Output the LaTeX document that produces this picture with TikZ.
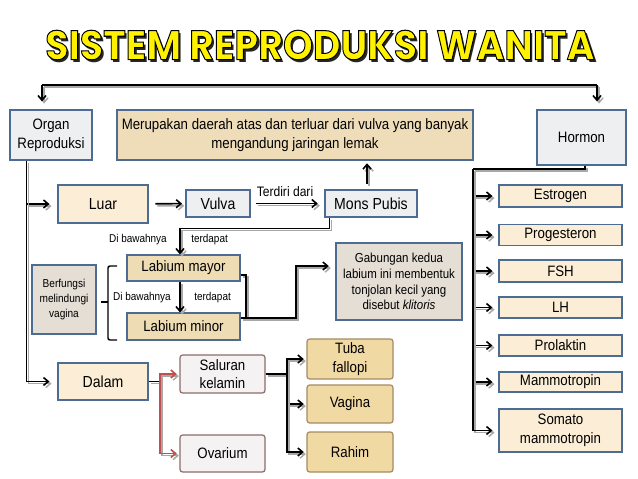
\documentclass[tikz,border=0pt]{standalone}
\usepackage{fontspec}
\usepackage{graphicx}
\setmainfont{Liberation Sans}[FakeStretch=0.88]
\newfontfamily\titlefont{Poppins}
\usetikzlibrary{arrows.meta,calc}
\definecolor{bblue}{HTML}{4D6C94}
\definecolor{boxgray}{HTML}{EEEFF1}
\definecolor{tanbg}{HTML}{EFDDBA}
\definecolor{peach}{HTML}{FCEED6}
\definecolor{labtan}{HTML}{EEDDB4}
\definecolor{beige}{HTML}{E4DED5}
\definecolor{rosefill}{HTML}{F4F2F2}
\definecolor{roseborder}{HTML}{8E6B6B}
\definecolor{goldfill}{HTML}{F1D9A4}
\definecolor{goldborder}{HTML}{A38C62}
\definecolor{arrowred}{HTML}{C0504D}
\definecolor{shadowgray}{HTML}{A8A8A8}
\definecolor{titleyellow}{HTML}{FFF200}
\newcommand\titletext[1]{\resizebox{412pt}{22pt}{#1\titlefont\bfseries SISTEM REPRODUKSI WANITA}}
\begin{document}
\begin{tikzpicture}[x=0.75pt,y=-0.75pt,
  sz/.style 2 args={minimum width=#1*0.75pt, minimum height=#2*0.75pt},
  box/.style={draw=bblue, line width=0.9pt, inner sep=1pt, align=center, font=\fontsize{11.3}{14}\selectfont},
  graybox/.style={box, fill=boxgray},
  peachbox/.style={box, fill=peach},
  rosebox/.style={box, draw=roseborder, fill=rosefill, rounded corners=2pt},
  goldbox/.style={box, draw=goldborder, fill=goldfill, rounded corners=2pt},
  bigtxt/.style={font=\fontsize{12}{14}\selectfont},
  lbl/.style={inner sep=0pt, font=\fontsize{8.5}{10}\selectfont},
  blk/.style={draw=black, line width=1.2pt, preaction={draw=shadowgray, line width=1.1pt, transform canvas={shift={(1.6pt,-1.6pt)}}}},
  conn/.style={blk, -{Straight Barb[length=3.5pt,width=6pt]}},
  redconn/.style={conn, draw=arrowred},
]
\useasboundingbox (0,0) rectangle (638,478);
\fill[white] (0,0) rectangle (638,478);

% title: black drop shadow, then yellow letters with a black outline
\node[inner sep=0pt, text=black!85] (titleshadow) at (322.5,47.5) {\titletext{}};
\node[inner sep=0pt, text=titleyellow] (title) at (320,45)
  {\titletext{\special{pdf:literal direct 2 Tr 0.25 w 0 G}}\special{pdf:literal direct 0 Tr}};

% nodes
\node[graybox, sz={82}{50}] (org) at (51,135) {Organ\\Reproduksi};
\node[box, fill=tanbg, sz={356}{50}] (mer) at (295,135) {Merupakan daerah atas dan terluar dari vulva yang banyak\\mengandung jaringan lemak};
\node[graybox, sz={89}{55}] (hor) at (581.5,137.5) {Hormon};

\node[peachbox, sz={90}{38}, bigtxt] (luar) at (103,204) {Luar};
\node[graybox, sz={64}{27}, bigtxt] (vulva) at (218,203.5) {Vulva};
\node[graybox, sz={92}{27}, bigtxt] (mons) at (371,203.5) {Mons Pubis};

\node[box, fill=labtan, sz={113}{26}] (lmayor) at (183.5,268) {Labium mayor};
\node[box, fill=labtan, sz={113}{27}] (lminor) at (183.5,326.5) {Labium minor};
\node[box, fill=beige, sz={64}{69}, font=\fontsize{8.6}{11.4}\selectfont] (berf) at (64,299.5) {Berfungsi\\melindungi\\vagina};
\node[box, fill=beige, sz={126}{77}, font=\fontsize{9.8}{11.8}\selectfont] (gab) at (399,281.5) {Gabungan kedua\\labium ini membentuk\\tonjolan kecil yang\\disebut \textit{klitoris}};

\node[peachbox, sz={90}{37}, bigtxt] (dalam) at (103,381.5) {Dalam};
\node[rosebox, sz={85}{38}] (sal) at (222.5,374) {Saluran\\kelamin};
\node[rosebox, sz={85}{37}] (ova) at (222.5,453.5) {Ovarium};
\node[goldbox, sz={86}{40}] (tuba) at (350,359) {Tuba\\fallopi};
\node[goldbox, sz={86}{38}] (vag) at (350,404) {Vagina};
\node[goldbox, sz={86}{40}] (rahim) at (350,452) {Rahim};

\node[peachbox, sz={123}{22}] (est) at (560.5,196) {Estrogen};
\node[peachbox, sz={123}{21}] (prog) at (560.5,235) {Progesteron};
\node[peachbox, sz={123}{22}] (fsh) at (560.5,271) {FSH};
\node[peachbox, sz={123}{21}] (lh) at (560.5,307.5) {LH};
\node[peachbox, sz={123}{21}] (prol) at (560.5,345.5) {Prolaktin};
\node[peachbox, sz={123}{20}] (mammo) at (560.5,382) {Mammotropin};
\node[peachbox, sz={123}{43}] (somato) at (560.5,430.5) {Somato\\mammotropin};

% labels
\node[inner sep=0pt, font=\fontsize{10.3}{12}\selectfont] (terdiri) at (285,192) {Terdiri dari};
\node[lbl, anchor=east] (db1) at (167,240) {Di bawahnya};
\node[lbl, anchor=west] (td1) at (191,240) {terdapat};
\node[lbl, anchor=east] (db2) at (171,298) {Di bawahnya};
\node[lbl, anchor=west] (td2) at (194,298) {terdapat};

% top connectors
\coordinate (topL) at (42,85);
\coordinate (topR) at (597,85);
\draw[blk] (topL) -- (topR);
\draw[conn] (topL) -- ($(org.north)+(-9,-8)$);
\draw[conn] (topR) -- ($(hor.north)+(15.5,-8)$);

% left trunk
\coordinate (ltr) at ($(org.south west)+(17,0)$);
\draw[conn, shorten >=6pt] (ltr) |- (luar.west);
\draw[conn, shorten >=6pt] (ltr) |- (dalam.west);

% luar / vulva / mons
\draw[conn, shorten <=5pt, shorten >=2.5pt] (luar) -- (vulva);
\draw[conn, shorten <=4pt, shorten >=5pt] (vulva) -- (mons);
\draw[conn, shorten <=4pt, shorten >=2pt] ($(mons.north)+(-4,0)$) -- ($(mer.south -| mons.north)+(-4,0)$);
\draw[conn] ($(mons.south west)+(5,0)$) -- ($(mons.south west)+(5,11)$) -| ($(lmayor.north)+(-3.5,0)$);
\draw[conn] ($(lmayor.south)+(-3.5,0)$) -- ($(lminor.north)+(-3.5,0)$);

% right bracket to klitoris box
\coordinate (bm) at (246,318);
\draw[blk] ($(lmayor.east)+(0,7)$) -| (bm) -- (lminor.east |- bm);
\draw[conn, shorten >=5pt] (bm) -- (296,318) |- ($(gab.west)+(0,-15.5)$);

% left bracket
\draw[black, line width=1.1pt, rounded corners=1.5pt] (117,266) -- (108,266) -- (108,340) -- (117,340);
\draw[black, line width=1.1pt] (108,302) -- (101,302);

% dalam
\coordinate (dj) at (160,381.5);
\draw[blk] (dalam.east) -- (dj);
\draw[redconn, shorten >=2pt] (dj) |- (sal.west);
\draw[redconn, shorten >=2pt] (dj) |- (ova.west);

% saluran
\coordinate (sj) at (287,374);
\draw[blk] (sal.east) -- (sj);
\draw[conn, shorten >=2pt] (sj) |- (tuba.west);
\draw[conn, shorten >=2pt] (sj) |- (vag.west);
\draw[conn, shorten >=2pt] (sj) |- (rahim.west);

% hormon
\coordinate (hj) at (473,169);
\draw[blk] ($(hor.south)+(3.5,0)$) |- (hj);
\foreach \h in {est,prog,fsh,lh,prol,mammo,somato}
  \draw[conn, shorten >=4.5pt] (hj) |- (\h.west);
\end{tikzpicture}
\end{document}
